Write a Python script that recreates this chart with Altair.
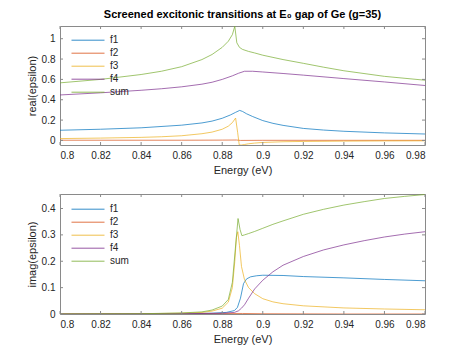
import altair as alt
import pandas as pd

# ---------------- data ----------------
series = ["f1", "f2", "f3", "f4", "sum"]
colors = ["#0072BD", "#D95319", "#EDB120", "#7E2F8E", "#77AC30"]
x_ticks = [0.8, 0.82, 0.84, 0.86, 0.88, 0.9, 0.92, 0.94, 0.96, 0.98]
y_ticks_real = [0, 0.2, 0.4, 0.6, 0.8, 1]
y_ticks_imag = [0, 0.1, 0.2, 0.3, 0.4]

# real(epsilon)
E_f1_re = [0.80, 0.82, 0.84, 0.86, 0.87, 0.875, 0.88, 0.884, 0.8865, 0.8886, 0.890, 0.892, 0.895, 0.90, 0.905, 0.91, 0.92, 0.93, 0.94, 0.96, 0.98]
f1_re = [0.100, 0.110, 0.124, 0.150, 0.172, 0.190, 0.218, 0.250, 0.275, 0.295, 0.285, 0.262, 0.235, 0.195, 0.168, 0.148, 0.118, 0.102, 0.090, 0.074, 0.063]

E_f2_re = [0.80, 0.86, 0.88, 0.887, 0.889, 0.90, 0.94, 0.98]
f2_re = [0.002, 0.002, 0.003, 0.004, 0.000, 0.001, 0.001, 0.001]

E_f3_re = [0.80, 0.82, 0.84, 0.85, 0.86, 0.87, 0.875, 0.88, 0.883, 0.885, 0.8866, 0.8876, 0.8884, 0.8895, 0.891, 0.893, 0.896, 0.90, 0.91, 0.92, 0.94, 0.96, 0.98]
f3_re = [0.018, 0.023, 0.030, 0.036, 0.046, 0.066, 0.082, 0.110, 0.140, 0.175, 0.220, 0.080, -0.045, -0.045, -0.040, -0.033, -0.026, -0.020, -0.013, -0.010, -0.007, -0.005, -0.004]

E_f4_re = [0.80, 0.82, 0.84, 0.85, 0.86, 0.87, 0.875, 0.88, 0.885, 0.888, 0.891, 0.895, 0.90, 0.91, 0.92, 0.94, 0.96, 0.98]
f4_re = [0.447, 0.468, 0.493, 0.508, 0.527, 0.553, 0.572, 0.600, 0.635, 0.660, 0.680, 0.680, 0.673, 0.658, 0.642, 0.608, 0.575, 0.540]

E_sum_re = [0.80, 0.82, 0.84, 0.85, 0.86, 0.87, 0.875, 0.88, 0.883, 0.885, 0.8862, 0.8872, 0.8885, 0.890, 0.893, 0.896, 0.90, 0.91, 0.92, 0.93, 0.94, 0.96, 0.98]
sum_re = [0.566, 0.600, 0.648, 0.680, 0.725, 0.795, 0.845, 0.915, 0.975, 1.040, 1.122, 0.960, 0.915, 0.895, 0.875, 0.860, 0.838, 0.795, 0.758, 0.720, 0.685, 0.630, 0.592]

# imag(epsilon)
E_f1_im = [0.80, 0.86, 0.875, 0.882, 0.886, 0.8875, 0.889, 0.8905, 0.892, 0.894, 0.897, 0.90, 0.91, 0.92, 0.94, 0.96, 0.98]
f1_im = [0.000, 0.001, 0.003, 0.006, 0.013, 0.025, 0.060, 0.115, 0.133, 0.141, 0.145, 0.147, 0.146, 0.142, 0.137, 0.131, 0.126]

E_f2_im = [0.80, 0.86, 0.88, 0.89, 0.90, 0.94, 0.98]
f2_im = [0.000, 0.000, 0.002, 0.002, 0.001, 0.000, 0.000]

E_f3_im = [0.80, 0.84, 0.86, 0.87, 0.875, 0.88, 0.883, 0.885, 0.8862, 0.887, 0.8877, 0.8885, 0.8895, 0.891, 0.893, 0.896, 0.90, 0.905, 0.91, 0.92, 0.94, 0.96, 0.98]
f3_im = [0.000, 0.001, 0.003, 0.006, 0.011, 0.022, 0.045, 0.100, 0.200, 0.290, 0.312, 0.260, 0.180, 0.130, 0.100, 0.077, 0.058, 0.046, 0.039, 0.031, 0.023, 0.019, 0.016]

E_f4_im = [0.80, 0.86, 0.88, 0.886, 0.888, 0.8895, 0.891, 0.893, 0.896, 0.90, 0.905, 0.91, 0.92, 0.93, 0.94, 0.95, 0.96, 0.97, 0.98]
f4_im = [0.000, 0.001, 0.003, 0.006, 0.012, 0.022, 0.035, 0.060, 0.095, 0.128, 0.160, 0.185, 0.218, 0.243, 0.262, 0.278, 0.292, 0.303, 0.312]

E_sum_im = [0.80, 0.84, 0.86, 0.87, 0.875, 0.88, 0.883, 0.885, 0.8865, 0.8878, 0.8888, 0.8897, 0.891, 0.893, 0.896, 0.90, 0.905, 0.91, 0.92, 0.93, 0.94, 0.95, 0.96, 0.97, 0.98]
sum_im = [0.000, 0.001, 0.004, 0.008, 0.015, 0.030, 0.055, 0.120, 0.250, 0.362, 0.320, 0.297, 0.300, 0.305, 0.313, 0.325, 0.340, 0.353, 0.378, 0.397, 0.413, 0.426, 0.438, 0.446, 0.453]


def long(pairs):
    rows = []
    for name, E, v in pairs:
        for e, val in zip(E, v):
            rows.append({"E": e, "v": val, "s": name})
    return pd.DataFrame(rows)


df_re = long([("f1", E_f1_re, f1_re), ("f2", E_f2_re, f2_re), ("f3", E_f3_re, f3_re),
              ("f4", E_f4_re, f4_re), ("sum", E_sum_re, sum_re)])
df_im = long([("f1", E_f1_im, f1_im), ("f2", E_f2_im, f2_im), ("f3", E_f3_im, f3_im),
              ("f4", E_f4_im, f4_im), ("sum", E_sum_im, sum_im)])

FONT = "Liberation Sans"
TICK_COLOR = "#8a8a8a"
W = 365


def panel(df, ytitle, ydomain, yticks, height, legend_y, channel, title=None):
    xs = alt.Scale(domain=[0.8, 0.98], nice=False, zero=False)
    ys = alt.Scale(domain=ydomain, nice=False, zero=False)
    x_axis = alt.Axis(values=x_ticks, format="~g", title="Energy (eV)")
    y_axis = alt.Axis(values=yticks, format="~g", title=ytitle)
    legend = alt.Legend(title=None, orient="none", legendX=11, legendY=legend_y,
                        symbolType="stroke", symbolSize=1089,
                        symbolStrokeWidth=1, symbolOpacity=0.8, labelFontSize=10,
                        labelOffset=5, rowPadding=0, clipHeight=12.4, padding=0,
                        labelFont=FONT, labelColor="#262626")
    cscale = alt.Scale(domain=series, range=colors)
    enc = dict(
        x=alt.X("E:Q", scale=xs, axis=x_axis),
        y=alt.Y("v:Q", scale=ys, axis=y_axis),
        order=alt.Order("E:Q"),
    )
    if channel == "color":
        enc["color"] = alt.Color("s:N", scale=cscale, legend=legend)
    else:
        enc["stroke"] = alt.Stroke("s:N", scale=cscale, legend=legend)
    lines = alt.Chart(df).mark_line(strokeWidth=1, clip=True, opacity=0.7).encode(**enc)

    # inward tick marks on all four sides (MATLAB box style)
    xt = pd.DataFrame({"t": x_ticks})
    yt = pd.DataFrame({"t": yticks})
    tb = alt.Chart(xt).mark_rule(color=TICK_COLOR, strokeWidth=1).encode(
        x=alt.X("t:Q", scale=xs, axis=x_axis), y=alt.value(height - 3), y2=alt.value(height))
    tt = alt.Chart(xt).mark_rule(color=TICK_COLOR, strokeWidth=1).encode(
        x=alt.X("t:Q", scale=xs, axis=x_axis), y=alt.value(0), y2=alt.value(3))
    tl = alt.Chart(yt).mark_rule(color=TICK_COLOR, strokeWidth=1).encode(
        y=alt.Y("t:Q", scale=ys, axis=y_axis), x=alt.value(0), x2=alt.value(3))
    tr = alt.Chart(yt).mark_rule(color=TICK_COLOR, strokeWidth=1).encode(
        y=alt.Y("t:Q", scale=ys, axis=y_axis), x=alt.value(W - 3), x2=alt.value(W))

    props = dict(width=W, height=height)
    if title is not None:
        props["title"] = title
    return alt.layer(lines, tb, tt, tl, tr).properties(**props)


top = panel(df_re, "real(epsilon)", [-0.045, 1.125], y_ticks_real, 119, 8, "color",
            title=alt.TitleParams("Screened excitonic transitions at E₀ gap of Ge (g=35)",
                                  fontSize=11, fontWeight="bold", font=FONT, color="#000000",
                                  anchor="middle", frame="group", offset=6))
bottom = panel(df_im, "imag(epsilon)", [0, 0.455], y_ticks_imag, 120, 9, "stroke")

chart = alt.vconcat(top, bottom, spacing=17).resolve_scale(
    color="independent", stroke="independent"
).properties(
    padding={"left": 25, "top": 8, "right": 5, "bottom": 5},
    background="white",
).configure_view(
    stroke=TICK_COLOR, strokeWidth=1
).configure_axis(
    domain=False, grid=False, ticks=False,
    labelFont=FONT, labelFontSize=10, labelColor="#262626", labelPadding=5,
    titleFont=FONT, titleFontSize=11, titleFontWeight="normal", titleColor="#262626",
    titlePadding=4,
)

chart.save("out.html", embed_options={"renderer": "svg", "actions": False})
